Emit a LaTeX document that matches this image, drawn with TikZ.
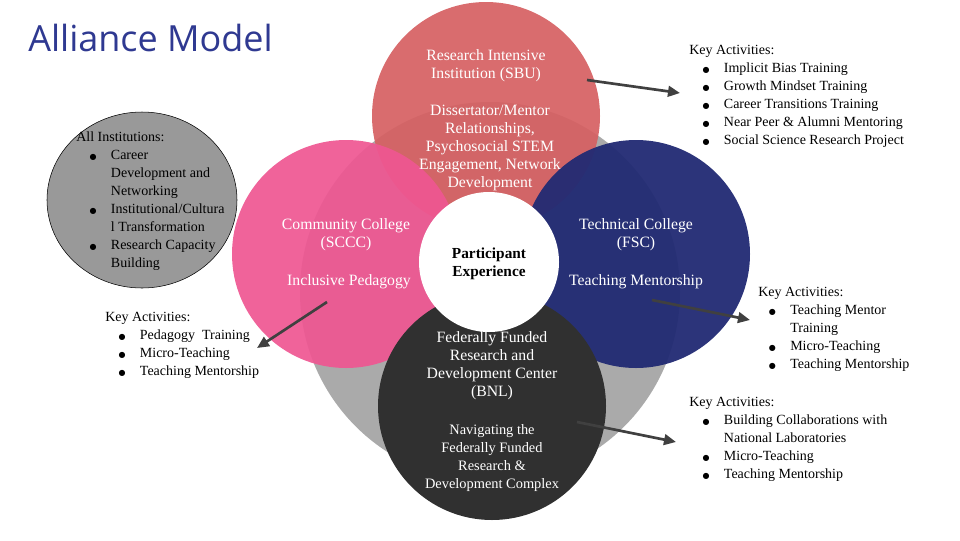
\documentclass[tikz,border=0pt]{standalone}
\usepackage{fontspec}
\setmainfont{Liberation Serif}
\newfontfamily\titlefont{Open Sans}
\newfontfamily\symfont{DejaVu Sans}
\usetikzlibrary{arrows.meta}
\definecolor{cred}{RGB}{214,96,98}
\definecolor{cpink}{RGB}{239,86,146}
\definecolor{cnavy}{RGB}{33,42,115}
\definecolor{cdark}{RGB}{48,48,48}
\definecolor{cgray}{RGB}{170,170,170}
\definecolor{ctitle}{RGB}{47,57,145}
\definecolor{carrow}{RGB}{64,64,64}
\begin{document}
\begin{tikzpicture}[x=0.75pt,y=-0.75pt,
  txt/.style={font=\fontsize{10.5}{13.5}\selectfont,align=left,anchor=north west,inner sep=0pt},
  ctxt/.style={font=\fontsize{11.8}{13.5}\selectfont,align=center,text=white,inner sep=0pt},
  arr/.style={draw=carrow,line width=2pt,-{Triangle[length=9pt,width=8pt]}}]
\useasboundingbox (0,0) rectangle (960,540);
\fill[white] (0,0) rectangle (960,540);
\node[anchor=west,inner sep=0pt,font=\fontsize{27}{30}\selectfont\titlefont,text=ctitle] (title) at (28,38) {Alliance Model};
\fill[cgray] (490,292) circle (190);
\fill[cred,opacity=0.92] (486,116) circle (114);
\fill[cpink,opacity=0.92] (346,254) circle (114);
\fill[cnavy,opacity=0.95] (636,254) circle (114);
\fill[cdark] (492,406) circle (114);
\fill[white] (489,262) circle (70);
\draw[black,fill=black!40] (142,200) ellipse (95 and 88);
\newcommand{\bul}{\makebox[16pt][l]{\symfont\fontsize{6}{6}\selectfont ●}}
\node[ctxt] (sbu) at (486,66) {Research Intensive\\Institution (SBU)};
\node[ctxt] (sbua) at (490,148) {Dissertator/Mentor\\Relationships,\\Psychosocial STEM\\Engagement, Network\\Development};
\node[ctxt] (sccc) at (346,235) {Community College\\(SCCC)};
\node[ctxt] (ip) at (349,282) {Inclusive Pedagogy};
\node[ctxt] (fsc) at (636,235) {Technical College\\(FSC)};
\node[ctxt] (tm) at (636,282) {Teaching Mentorship};
\node[ctxt] (bnl) at (492,366) {Federally Funded\\Research and\\Development Center\\(BNL)};
\node[ctxt,font=\fontsize{10.8}{13.5}\selectfont] (bnla) at (492,458) {Navigating the\\Federally Funded\\Research \&\\Development Complex};
\node[ctxt,text=black,font=\fontsize{11.5}{13.5}\selectfont\bfseries] (pe) at (489,264) {Participant\\Experience};
\node[txt] (all) at (76,132) {All Institutions:\\
\hspace*{10pt}\bul Career\\\hspace*{26pt}Development and\\\hspace*{26pt}Networking\\
\hspace*{10pt}\bul Institutional/Cultura\\\hspace*{26pt}l Transformation\\
\hspace*{10pt}\bul Research Capacity\\\hspace*{26pt}Building};
\node[txt] (k1) at (689,45) {Key Activities:\\
\hspace*{10pt}\bul Implicit Bias Training\\
\hspace*{10pt}\bul Growth Mindset Training\\
\hspace*{10pt}\bul Career Transitions Training\\
\hspace*{10pt}\bul Near Peer \& Alumni Mentoring\\
\hspace*{10pt}\bul Social Science Research Project};
\node[txt] (k2) at (105,312) {Key Activities:\\
\hspace*{10pt}\bul Pedagogy\ \ Training\\
\hspace*{10pt}\bul Micro-Teaching\\
\hspace*{10pt}\bul Teaching Mentorship};
\node[txt] (k3) at (758,287) {Key Activities:\\
\hspace*{8pt}\bul Teaching Mentor\\\hspace*{24pt}Training\\
\hspace*{8pt}\bul Micro-Teaching\\
\hspace*{8pt}\bul Teaching Mentorship};
\node[txt] (k4) at (689,397) {Key Activities:\\
\hspace*{10pt}\bul Building Collaborations with\\\hspace*{26pt}National Laboratories\\
\hspace*{10pt}\bul Micro-Teaching\\
\hspace*{10pt}\bul Teaching Mentorship};
\coordinate (a1s) at (587,80); \coordinate (a1e) at (680,93);
\coordinate (a2s) at (327,302); \coordinate (a2e) at (257,348);
\coordinate (a3s) at (652,300); \coordinate (a3e) at (750,320);
\coordinate (a4s) at (577,422); \coordinate (a4e) at (676,442);
\draw[arr] (a1s) -- (a1e);
\draw[arr] (a2s) -- (a2e);
\draw[arr] (a3s) -- (a3e);
\draw[arr] (a4s) -- (a4e);
\end{tikzpicture}
\end{document}
